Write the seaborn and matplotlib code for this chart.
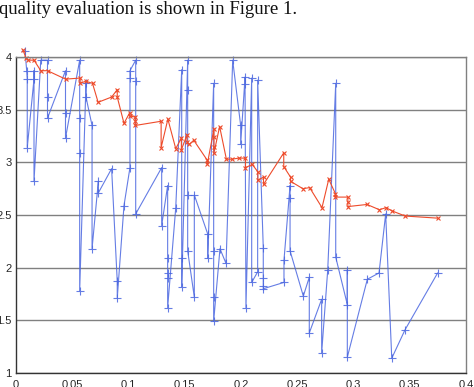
import numpy as np
import pandas as pd
import matplotlib
matplotlib.use("Agg")
import matplotlib.pyplot as plt
import seaborn as sns

# red series (x markers)
red_x = [0.006, 0.009, 0.011, 0.016, 0.022, 0.028, 0.044, 0.057, 0.057, 0.062,
         0.068, 0.073, 0.085, 0.090, 0.090, 0.096, 0.101, 0.101, 0.106, 0.106,
         0.106, 0.129, 0.129, 0.135, 0.142, 0.147, 0.147, 0.152, 0.152, 0.154,
         0.158, 0.170, 0.170, 0.176, 0.176, 0.176, 0.176, 0.181, 0.187, 0.192,
         0.198, 0.204, 0.204, 0.210, 0.215, 0.215, 0.220, 0.220, 0.238, 0.238,
         0.244, 0.244, 0.255, 0.261, 0.272, 0.278, 0.284, 0.284, 0.295, 0.295,
         0.295, 0.312, 0.323, 0.329, 0.334, 0.346, 0.375]
red_y = [4.07, 3.99, 3.97, 3.97, 3.87, 3.87, 3.79, 3.80, 3.75, 3.77,
         3.75, 3.57, 3.62, 3.69, 3.62, 3.37, 3.47, 3.44, 3.43, 3.39,
         3.35, 3.39, 3.14, 3.41, 3.13, 3.23, 3.12, 3.26, 3.19, 3.17,
         3.21, 3.02, 2.98, 3.32, 3.24, 3.15, 3.09, 3.34, 3.03, 3.03,
         3.04, 3.04, 2.95, 2.98, 2.91, 2.83, 2.86, 2.79, 3.09, 2.96,
         2.86, 2.82, 2.75, 2.76, 2.57, 2.84, 2.70, 2.67, 2.67, 2.62,
         2.58, 2.60, 2.55, 2.57, 2.54, 2.49, 2.47]

# blue series (+ markers)
blue_x = [0.008, 0.0095, 0.010, 0.010, 0.016, 0.016, 0.016, 0.022, 0.028, 0.028,
          0.028, 0.044, 0.044, 0.044, 0.0566, 0.0566, 0.0566, 0.0566, 0.0622, 0.0622,
          0.0676, 0.0676, 0.0732, 0.0732, 0.085, 0.090, 0.090, 0.096, 0.1013, 0.1013,
          0.1013, 0.1064, 0.1064, 0.1064, 0.1295, 0.1295, 0.1348, 0.1348, 0.1348, 0.1348,
          0.1348, 0.142, 0.1473, 0.1473, 0.1473, 0.1526, 0.1526, 0.1526, 0.1526, 0.1585,
          0.1585, 0.1704, 0.1704, 0.1757, 0.1757, 0.1757, 0.1757, 0.1813, 0.1867, 0.1926,
          0.1997, 0.1997, 0.2036, 0.2036, 0.2044, 0.2095, 0.2095, 0.2148, 0.2148, 0.2198,
          0.2198, 0.2198, 0.2198, 0.2382, 0.2382, 0.2436, 0.2436, 0.2436, 0.2554, 0.2607,
          0.2607, 0.2717, 0.2717, 0.2771, 0.2842, 0.2842, 0.2945, 0.2945, 0.2945, 0.3123,
          0.3227, 0.3286, 0.334, 0.3458, 0.3748]
blue_y = [4.06, 3.87, 3.79, 3.14, 3.79, 3.87, 2.82, 3.97, 3.97, 3.62,
          3.42, 3.87, 3.47, 3.23, 3.97, 3.42, 3.09, 1.78, 3.75, 3.62,
          3.35, 2.18, 2.82, 2.71, 2.94, 1.87, 1.71, 2.59, 2.95, 3.80,
          3.87, 3.97, 3.77, 2.51, 2.95, 2.40, 2.78, 2.09, 1.95, 1.90,
          1.62, 2.57, 3.88, 2.09, 1.82, 3.97, 3.69, 2.69, 2.16, 1.72,
          2.69, 2.32, 2.09, 3.75, 2.16, 1.72, 1.49, 2.18, 2.04, 3.97,
          3.35, 3.17, 3.81, 3.74, 1.62, 3.80, 1.86, 1.96, 3.78, 2.19,
          1.90, 1.83, 1.80, 1.86, 2.07, 2.78, 2.66, 2.16, 1.73, 1.91,
          1.38, 1.70, 1.19, 1.98, 3.75, 2.10, 1.65, 1.98, 1.15, 1.89,
          1.95, 2.51, 1.14, 1.41, 1.95]

x_ticks = [0, 0.05, 0.1, 0.15, 0.2, 0.25, 0.3, 0.35, 0.4]
x_labels = ["0", "0.05", "0.1", "0.15", "0.2", "0.25", "0.3", "0.35", "0.4"]
y_ticks = [1, 1.5, 2, 2.5, 3, 3.5, 4]
y_labels = ["1", "1.5", "2", "2.5", "3", "3.5", "4"]

sns.set_style("white")
plt.rcParams['font.family'] = ['Liberation Sans', 'DejaVu Sans']

fig = plt.figure(figsize=(4.74, 3.87), dpi=100)
fig.text(-0.003, 0.997, "quality evaluation is shown in Figure 1.", family="Liberation Serif",
         fontsize=13.5, va="top", ha="left", color="#111111")

ax = fig.add_axes([16 / 474, 14 / 387, 450 / 474, 316 / 387])

df_blue = pd.DataFrame({"x": blue_x, "y": blue_y})
df_red = pd.DataFrame({"x": red_x, "y": red_y})

blue = "#4a66e0"
red = "#ee4b2b"
sns.lineplot(data=df_blue, x="x", y="y", sort=False, estimator=None, ax=ax,
             color=blue, lw=0.8, marker="+", markersize=6, mew=0.8, mec=blue,
             alpha=0.85, clip_on=False)
sns.lineplot(data=df_red, x="x", y="y", sort=False, estimator=None, ax=ax,
             color=red, lw=0.8, marker="x", markersize=3.5, mew=0.8, mec=red,
             clip_on=False)

ax.set_xlim(0, 0.4)
ax.set_ylim(1, 4)
ax.set_xticks(x_ticks)
ax.set_xticklabels(x_labels)
ax.set_yticks(y_ticks)
ax.set_yticklabels(y_labels)
ax.set_xlabel("")
ax.set_ylabel("")
ax.yaxis.grid(True, color="#808080", lw=1.0)
ax.xaxis.grid(False)
ax.tick_params(axis="both", labelsize=8, direction="in", length=3, width=0.6,
               color="#555555", pad=3)
ax.tick_params(axis="x", pad=5)
for s in ["left", "bottom"]:
    ax.spines[s].set_color("#333333")
    ax.spines[s].set_linewidth(1.0)
for s in ["top", "right"]:
    ax.spines[s].set_color("#808080")
    ax.spines[s].set_linewidth(1.0)

fig.savefig("out.png", dpi=100)
